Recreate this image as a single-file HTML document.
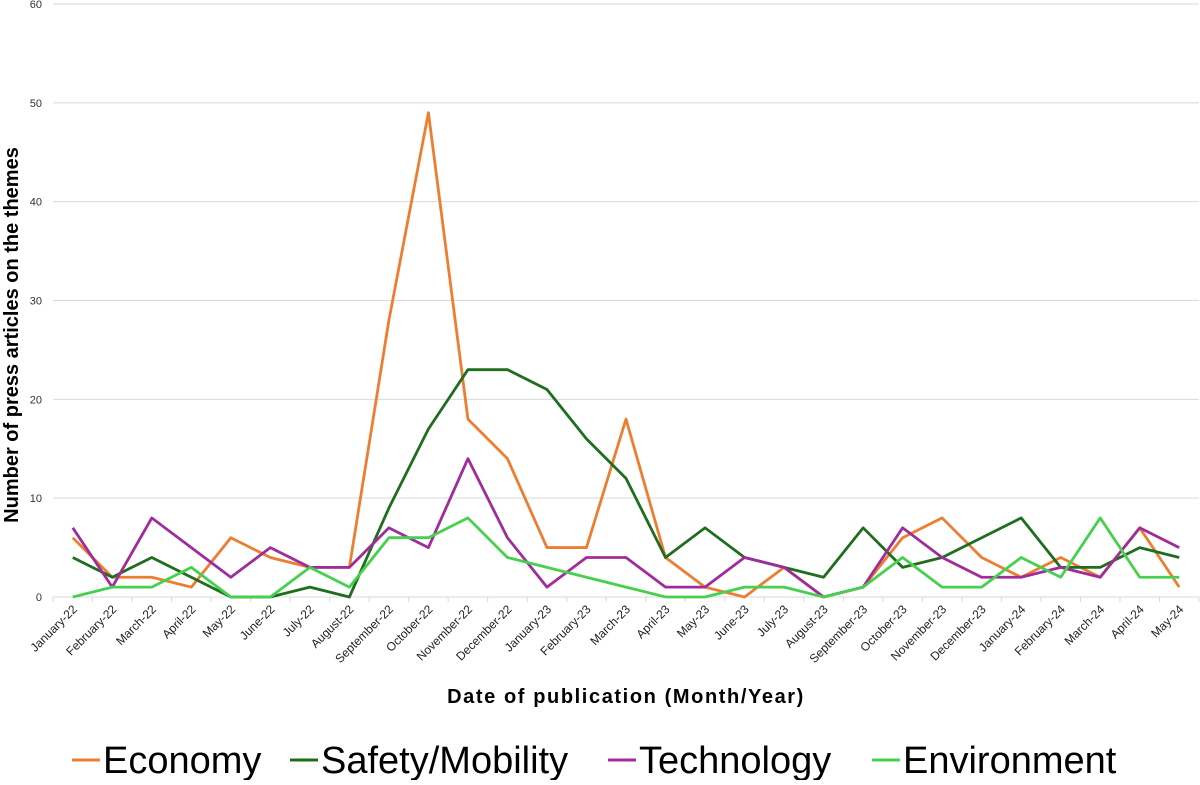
<!DOCTYPE html>
<html><head><meta charset="utf-8"><style>
body{margin:0;background:#fff;font-family:"Liberation Sans",sans-serif;}
</style></head><body>
<svg id="c" width="1200" height="780" xmlns="http://www.w3.org/2000/svg"></svg>
<script>
const months=["January-22","February-22","March-22","April-22","May-22","June-22","July-22","August-22","September-22","October-22","November-22","December-22","January-23","February-23","March-23","April-23","May-23","June-23","July-23","August-23","September-23","October-23","November-23","December-23","January-24","February-24","March-24","April-24","May-24"];
const economy=[6,2,2,1,6,4,3,3,28,49,18,14,5,5,18,4,1,0,3,0,1,6,8,4,2,4,2,7,1];
const safety=[4,2,4,2,0,0,1,0,9,17,23,23,21,16,12,4,7,4,3,2,7,3,4,6,8,3,3,5,4];
const technology=[7,1,8,5,2,5,3,3,7,5,14,6,1,4,4,1,1,4,3,0,1,7,4,2,2,3,2,7,5];
const environment=[0,1,1,3,0,0,3,1,6,6,8,4,3,2,1,0,0,1,1,0,1,4,1,1,4,2,8,2,2];
const yTicks=[0,10,20,30,40,50,60];
const seriesNames=["Economy","Safety/Mobility","Technology","Environment"];
const colors=["#ED7D31","#1E6E1E","#A02B9B","#45D14F"];
const svg=document.getElementById('c');
const NS="http://www.w3.org/2000/svg";
const L=53,R=1199,Y0=597,Y60=4;
const band=(R-L)/months.length;
const x=i=>L+band*(i+0.5);
const y=v=>Y0-(v/60)*(Y0-Y60);
function mk(t,a,p){const e=document.createElementNS(NS,t);for(const k in a)e.setAttribute(k,a[k]);(p||svg).appendChild(e);return e;}
yTicks.forEach(t=>{
  const g=mk('line',{x1:L,x2:R,y1:y(t),y2:y(t),stroke:'#d9d9d9','stroke-width':1});
  
  
  const l=mk('text',{x:42,y:y(t)+4,'text-anchor':'end','font-size':11,fill:'#333'});
  l.textContent=t;
  
  
});
for(let i=0;i<=months.length;i++){
  const tk=mk('line',{x1:L+band*i,x2:L+band*i,y1:Y0,y2:Y0+5,stroke:'#d9d9d9'});
  
  
}
months.forEach((m,i)=>{
  const t=mk('text',{x:0,y:0,'text-anchor':'end','font-size':12,fill:'#222',transform:`translate(${x(i)+5},${Y0+13}) rotate(-45)`});
  t.textContent=m;
  
  
});
[economy,safety,technology,environment].forEach((s,k)=>{
  const p=mk('polyline',{points:s.map((v,i)=>x(i)+','+y(v)).join(' '),fill:'none',stroke:colors[k],'stroke-width':2.8,'stroke-linejoin':'round'});
  
  
});
const xt=mk('text',{x:626,y:703,'text-anchor':'middle','font-size':20,'font-weight':'bold','letter-spacing':1.6,fill:'#000'});
xt.textContent='Date of publication (Month/Year)';


const yt=mk('text',{x:0,y:0,'text-anchor':'middle','font-size':20,'font-weight':'bold',fill:'#000',transform:'translate(18,335) rotate(-90)'});
yt.textContent='Number of press articles on the themes';


const lx=[72,290,608,872];
seriesNames.forEach((n,k)=>{
  const g=mk('g',{});
  
  
  mk('line',{x1:lx[k],x2:lx[k]+28,y1:760,y2:760,stroke:colors[k],'stroke-width':3},g);
  const t=mk('text',{x:lx[k]+31,y:773,'font-size':38,fill:'#000'},g);
  t.textContent=n;
});
</script>
</body></html>
